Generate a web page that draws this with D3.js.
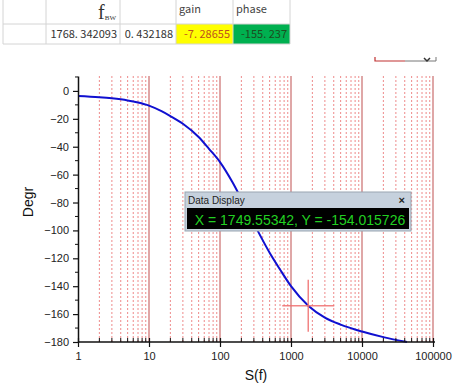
<!DOCTYPE html>
<meta charset="utf-8">
<style>
body { margin: 0; background: #fff; }
svg text { font-family: Arial, 'Liberation Sans', sans-serif; }
.axis-title { font-size: 14px; fill: #111; }
.cell { font-family: 'Noto Sans CJK SC', 'DejaVu Sans', sans-serif; font-size: 11px; }
.grid-minor { stroke: #ee8a8a; stroke-width: 1; stroke-dasharray: 2 2; }
.grid-major { stroke: #d48a8a; stroke-width: 1.5; }
.curve { fill: none; stroke: #1010d0; stroke-width: 2; }
</style>
<svg id="svg" width="474" height="388"></svg>
<script src="https://cdn.jsdelivr.net/npm/d3@7/dist/d3.min.js"></script>
<script>

// phase curve
const freq  = [1, 2, 3, 5, 7, 10, 15, 20, 30, 50, 70, 100, 150, 200, 300, 500, 700, 1000, 1750, 3000, 5000, 10000, 20000, 43000];
const phase = [-3.6, -4.5, -5.3, -6.8, -8.3, -10.5, -14.5, -18, -23.5, -33, -41.5, -51, -65.5, -77.5, -95, -116, -128, -140, -154, -162.5, -167.5, -172.5, -176.5, -180];

const yTicks = [0, -20, -40, -60, -80, -100, -120, -140, -160, -180];
const xTicks = [1, 10, 100, 1000, 10000, 100000];

// spreadsheet strip above the graph
const headRow = ['', 'fBW', '', 'gain', 'phase'];
const valueRow = ['', '1768. 342093', '0. 432188', '-7. 28655', '-155. 237'];
const colEdges = [3, 46, 120, 176, 233, 290];

const readout = 'X = 1749.55342, Y = -154.015726';

function translate(x, y) { return 'translate(' + x + ',' + y + ')'; }

const svg = d3.select('#svg');

// ---- table ----
let tbl = svg.append('g');
let rowY = [0, 24, 44];
tbl.append('rect').attr('x', colEdges[3]).attr('y', rowY[1]).attr('width', colEdges[4] - colEdges[3]).attr('height', rowY[2] - rowY[1]).attr('fill', '#ffff00');
tbl.append('rect').attr('x', colEdges[4]).attr('y', rowY[1]).attr('width', colEdges[5] - colEdges[4]).attr('height', rowY[2] - rowY[1]).attr('fill', '#00b050');
colEdges.forEach(x => {
    tbl.append('line').attr('x1', x).attr('x2', x).attr('y1', 0).attr('y2', rowY[2]).attr('stroke', '#d4d4d4');
});
[rowY[1], rowY[2]].forEach(y => {
    tbl.append('line').attr('x1', colEdges[0]).attr('x2', colEdges[5]).attr('y1', y).attr('y2', y).attr('stroke', '#d4d4d4');
});
// header row
let fbw = tbl.append('text').attr('x', colEdges[2] - 4).attr('y', 19).attr('text-anchor', 'end')
    .style('font-family', "'Liberation Serif', 'DejaVu Serif', serif").style('font-size', '20px').attr('fill', '#333');
fbw.append('tspan').text(headRow[1].slice(0, 1));
fbw.append('tspan').text(headRow[1].slice(1)).style('font-size', '7px').attr('dy', 1);
tbl.append('text').attr('class', 'cell').attr('x', colEdges[3] + 3).attr('y', 13).attr('fill', '#444').text(headRow[3]);
tbl.append('text').attr('class', 'cell').attr('x', colEdges[4] + 3).attr('y', 13).attr('fill', '#444').text(headRow[4]);
// value row
const valColors = ['#333', '#333', '#333', '#c0501e', '#1d4d20'];
valueRow.forEach((v, i) => {
    if (!v) return;
    tbl.append('text').attr('class', 'cell').attr('x', colEdges[i + 1] - 3).attr('y', 38)
        .attr('text-anchor', 'end').attr('fill', valColors[i]).text(v);
});

// ---- cut-off legend box, top right ----
svg.append('path').attr('d', 'M375,57V61H405').attr('fill', 'none').attr('stroke', '#c03030').attr('stroke-width', 1.2);
svg.append('path').attr('d', 'M405,61H436V57').attr('fill', 'none').attr('stroke', '#777').attr('stroke-width', 1);
svg.append('path').attr('d', 'M424,58l3,3l3,-3').attr('fill', 'none').attr('stroke', '#333').attr('stroke-width', 1.5);

// ---- plot ----
const pLeft = 78, pRight = 433, pTop = 76, pBottom = 342;
const x = d3.scaleLog().domain([1, 100000]).range([pLeft, pRight]);
const y = d3.scaleLinear().domain([-180, 10.7]).range([pBottom, pTop]);

let minors = [], majors = [];
for (let e = 0; e < 5; e++) {
    for (let m = 2; m <= 9; m++) minors.push(m * Math.pow(10, e));
    majors.push(Math.pow(10, e + 1));
}

svg.append('g').selectAll('line').data(minors).enter().append('line')
    .attr('class', 'grid-minor')
    .attr('x1', d => x(d)).attr('x2', d => x(d))
    .attr('y1', pTop).attr('y2', pBottom);
svg.append('g').selectAll('line').data(majors).enter().append('line')
    .attr('class', 'grid-major')
    .attr('x1', d => x(d)).attr('x2', d => x(d))
    .attr('y1', pTop).attr('y2', pBottom);

// curve
const line = d3.line()
    .x((d, i) => x(freq[i]))
    .y(d => y(d))
    .curve(d3.curveMonotoneX);
svg.append('path').attr('class', 'curve').attr('d', line(phase));

// crosshair on the picked point
const px = x(1749.55342), py = y(-154.015726);
svg.append('line').attr('x1', px - 26).attr('x2', px + 26).attr('y1', py).attr('y2', py)
    .attr('stroke', '#f07070').attr('stroke-width', 1.5).attr('opacity', 0.85);
svg.append('line').attr('x1', px).attr('x2', px).attr('y1', py - 26).attr('y2', py + 26)
    .attr('stroke', '#f07070').attr('stroke-width', 1.5).attr('opacity', 0.85);

// x axis
let xAxis = d3.axisBottom(x).tickValues(xTicks).tickFormat(d3.format('d')).tickSizeInner(5).tickSizeOuter(0).tickPadding(5);
let gx = svg.append('g').attr('transform', translate(0, pBottom)).call(xAxis);
gx.select('.domain').attr('stroke', '#111').attr('stroke-width', 1.5).attr('d', 'M' + pLeft + ',0H' + (pRight + 2));
gx.selectAll('.tick line').attr('stroke', '#111').attr('stroke-width', 1.2).attr('y1', -4);
gx.selectAll('.tick text').style('font-size', '11px').attr('fill', '#222');
svg.append('g').selectAll('line').data(minors).enter().append('line')
    .attr('x1', d => x(d)).attr('x2', d => x(d))
    .attr('y1', pBottom).attr('y2', pBottom - 4)
    .attr('stroke', '#111').attr('stroke-width', 1);

// y axis
let yAxis = d3.axisLeft(y).tickValues(yTicks).tickSizeInner(5).tickSizeOuter(0).tickPadding(4);
let gy = svg.append('g').attr('transform', translate(pLeft, 0)).call(yAxis);
gy.select('.domain').attr('stroke', '#111').attr('stroke-width', 1.5);
gy.selectAll('.tick line').attr('stroke', '#111').attr('stroke-width', 1.2);
gy.selectAll('.tick text').style('font-size', '11px').attr('fill', '#222');
svg.append('g').selectAll('line').data(d3.range(-170, 11, 20)).enter().append('line')
    .attr('x1', pLeft - 3).attr('x2', pLeft)
    .attr('y1', d => y(d)).attr('y2', d => y(d))
    .attr('stroke', '#111').attr('stroke-width', 1);

// axis titles
svg.append('text').attr('class', 'axis-title')
    .attr('transform', translate(33, 202) + ' rotate(-90)')
    .attr('text-anchor', 'middle').text('Degr');
svg.append('text').attr('class', 'axis-title')
    .attr('x', 256).attr('y', 380)
    .attr('text-anchor', 'middle').text('S(f)');

// ---- data display popup ----
let dd = svg.append('g').attr('transform', translate(185, 192));
dd.append('rect').attr('width', 226).attr('height', 39).attr('fill', '#c6d1dd').attr('stroke', '#9aa6b2');
dd.append('text').attr('x', 3).attr('y', 12).style('font-size', '10px').attr('fill', '#222').text('Data Display');
dd.append('text').attr('x', 220).attr('y', 12).attr('text-anchor', 'end').style('font-size', '11px').style('font-weight', 'bold').attr('fill', '#222').text('×');
dd.append('rect').attr('x', 2).attr('y', 16).attr('width', 222).attr('height', 21).attr('fill', '#000');
dd.append('text').attr('x', 115).attr('y', 32.5).attr('text-anchor', 'middle')
    .style('font-size', '14px').attr('fill', '#22d022').text(readout);

</script>
